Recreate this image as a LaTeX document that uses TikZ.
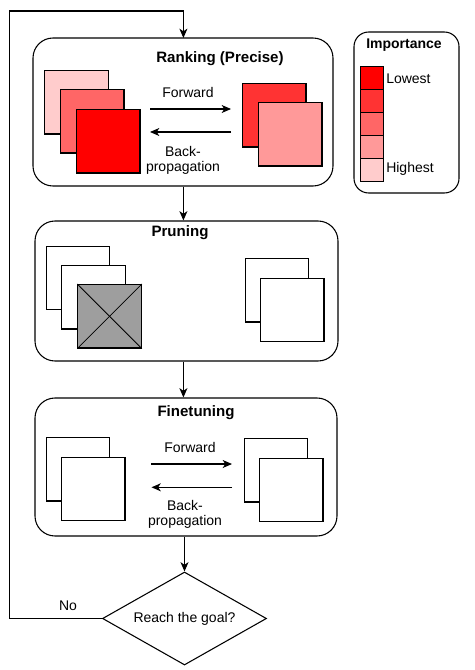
\documentclass[tikz,border=0pt]{standalone}
\usepackage{fontspec}
\setmainfont{Liberation Sans}
\usetikzlibrary{arrows.meta,shapes.geometric}
\definecolor{rA}{HTML}{FF0000}
\definecolor{rB}{HTML}{FF3333}
\definecolor{rC}{HTML}{FF6666}
\definecolor{rD}{HTML}{FF9999}
\definecolor{rE}{HTML}{FFCCCC}
\definecolor{grayfill}{HTML}{9E9E9E}
\tikzset{
  stage/.style={draw, line width=0.8pt, rounded corners=15pt, inner sep=0pt},
  sq/.style={draw, fill=white, line width=0.8pt, minimum width=47.6pt, minimum height=47.6pt, inner sep=0pt, anchor=north west},
  cell/.style={draw, line width=0.8pt, minimum width=17.25pt, minimum height=17.25pt, inner sep=0pt, anchor=north west},
  arr/.style={line width=0.8pt, -{Stealth[length=7pt,width=6pt,inset=2pt]}},
  conn/.style={line width=0.8pt},
  ttl/.style={font=\fontsize{11.3}{13}\selectfont\bfseries, inner sep=0pt},
  lbl/.style={font=\fontsize{10.5}{11.4}\selectfont, inner sep=0pt, align=center},
}
\begin{document}
\begin{tikzpicture}[x=0.75pt,y=-0.75pt]
\useasboundingbox (0,0) rectangle (474,670);
% stages
\node[stage, minimum width=225pt, minimum height=111pt] (rank) at (183,112) {};
\node[stage, minimum width=227.25pt, minimum height=105pt] (prune) at (186.5,291) {};
\node[stage, minimum width=226.5pt, minimum height=103.5pt] (fine) at (186,467) {};
\node[stage, rounded corners=11pt, minimum width=78.75pt, minimum height=120.75pt] (legend) at (406.5,112.5) {};
\node[draw, line width=0.8pt, diamond, shape aspect=1.76, inner sep=0pt, minimum width=123pt, minimum height=69.75pt] (goal) at (184.5,618.5) {};
\node[lbl] (goaltxt) at (goal.center) {Reach the goal?};

% titles
\node[ttl] (rankttl) at (220,59) {Ranking (Precise)};
\node[ttl] (prunettl) at (180,233) {Pruning};
\node[ttl] (finettl) at (196,413) {Finetuning};
\node[ttl, font=\fontsize{10.5}{12}\selectfont\bfseries] (legttl) at (404,45) {Importance};

% ranking squares
\node[sq, fill=rE] (r1) at (44.3,70) {};
\node[sq, fill=rC] (r2) at (60,89) {};
\node[sq, fill=rA] (r3) at (76,109) {};
\node[sq, fill=rB] (r4) at (242,83) {};
\node[sq, fill=rD] (r5) at (258,102) {};
\coordinate (rf1) at (150,109); \coordinate (rf2) at (231,109);
\coordinate (rb1) at (231,132); \coordinate (rb2) at (150,132);
\draw[arr] (rf1) -- (rf2);
\draw[arr] (rb1) -- (rb2);
\node[lbl] (rfw) at (188,92) {Forward};
\node[lbl] (rbp) at (183,160) {Back-\\propagation};

% pruning squares
\node[sq] (p1) at (45.7,245.7) {};
\node[sq] (p2) at (61.3,265) {};
\node[sq, fill=grayfill] (p3) at (77.3,284) {};
\draw[line width=0.6pt] (p3.north west) -- (p3.south east);
\draw[line width=0.6pt] (p3.north east) -- (p3.south west);
\node[sq] (p4) at (244.7,258) {};
\node[sq] (p5) at (260,277.7) {};

% finetuning squares
\node[sq] (f1) at (45.7,437) {};
\node[sq] (f2) at (61,456.7) {};
\node[sq] (f3) at (243.7,438) {};
\node[sq] (f4) at (259,457.7) {};
\coordinate (ff1) at (151,464); \coordinate (ff2) at (232,464);
\coordinate (fb1) at (232,487.3); \coordinate (fb2) at (151.5,487.3);
\draw[arr] (ff1) -- (ff2);
\draw[arr] (fb1) -- (fb2);
\node[lbl] (ffw) at (190,447.7) {Forward};
\node[lbl] (fbp) at (185,514.5) {Back-\\propagation};

% legend cells
\node[cell, fill=rA] (l1) at (360,66) {};
\node[cell, fill=rB] (l2) at (360,89) {};
\node[cell, fill=rC] (l3) at (360,112) {};
\node[cell, fill=rD] (l4) at (360,135) {};
\node[cell, fill=rE] (l5) at (360,158) {};
\node[lbl, anchor=west] (low) at (386,79) {Lowest};
\node[lbl, anchor=west] (high) at (386,169) {Highest};

% flow connectors
\coordinate (rankin) at (183.4,38);
\draw[arr] (rankin |- rank.south) -- (rankin |- prune.north);
\draw[arr] (rankin |- prune.south) -- (rankin |- fine.north);
\draw[arr] (goal.north |- fine.south) -- (goal.north);
\coordinate (c1) at (9.5,618.5);
\coordinate (c2) at (9.5,11);
\draw[arr] (goal.west) -- (c1) -- (c2) -| (rankin);
\node[lbl] (no) at (68,606) {No};
\end{tikzpicture}
\end{document}
